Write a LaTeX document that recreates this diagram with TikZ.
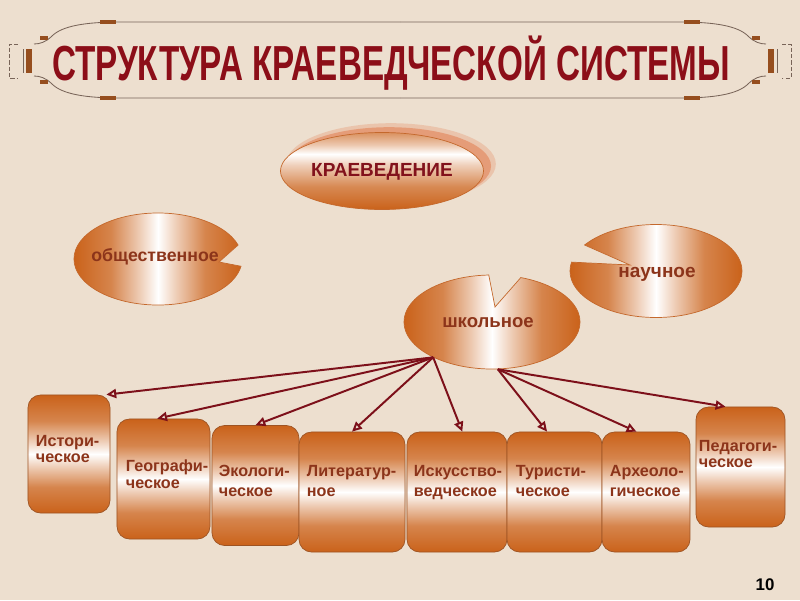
\documentclass[tikz,border=0pt]{standalone}
\usepackage{fontspec}
\setmainfont{Liberation Sans}
\usepackage{graphicx}
\usetikzlibrary{shapes,arrows.meta,calc}

\definecolor{bgsand}{RGB}{237,223,207}
\definecolor{titlered}{RGB}{140,14,24}
\definecolor{deepred}{RGB}{130,18,28}
\definecolor{rust}{RGB}{140,52,26}
\definecolor{amber}{RGB}{202,98,26}
\definecolor{rim}{RGB}{196,104,44}
\definecolor{arrowred}{RGB}{125,16,26}
\definecolor{frameink}{RGB}{120,100,88}
\definecolor{framebrown}{RGB}{150,78,30}
\definecolor{glow}{RGB}{226,118,70}

\pgfdeclareverticalshading{bandshade}{100bp}{color(0bp)=(amber); color(25bp)=(amber);
  color(36bp)=(amber!78!white); color(44bp)=(amber!35!white); color(50bp)=(white);
  color(56bp)=(amber!35!white); color(64bp)=(amber!78!white); color(75bp)=(amber); color(100bp)=(amber)}
\pgfdeclareverticalshading{capshade}{100bp}{color(0bp)=(amber); color(25bp)=(amber);
  color(40bp)=(amber!75!white); color(54bp)=(amber!30!white); color(61bp)=(white);
  color(67bp)=(amber!35!white); color(75bp)=(amber!70!white); color(100bp)=(amber!70!white)}

\tikzset{
  oval/.style={ellipse, inner sep=0pt, draw=rim, line width=0.5pt,
    shading=bandshade, shading angle=90},
  ovaltext/.style={inner sep=0pt, text=rust, font=\bfseries\fontsize{#1}{15}\selectfont},
  ovaltext/.default=13,
  notch/.style={fill=bgsand},
  notchrim/.style={draw=rim, line width=0.5pt},
  branch/.style={rectangle, rounded corners=9pt, inner sep=0pt, minimum height=3cm,
    draw=rim!80!black, line width=0.5pt, shading=bandshade},
  branchtext/.style={anchor=north west, align=left, inner sep=0pt, text=rust,
    font=\bfseries\fontsize{11.5}{#1}\selectfont},
  branchtext/.default=14.2,
  link/.style={arrowred, line width=1.4pt,
    -{Triangle[open, length=7pt, width=6.5pt]}},
}

\begin{document}
\begin{tikzpicture}[x=0.025cm, y=-0.025cm]
\useasboundingbox (0,0) rectangle (800,600);
\fill[bgsand] (0,0) rectangle (800,600);

% title frame
\foreach \sx/\ox in {1/0,-1/800}{
  \begin{scope}[shift={(\ox,0)}, xscale=\sx]
    \draw[frameink, line width=0.6pt] (400,22) -- (120,22) .. controls (85,22) and (62,26) .. (52,36) .. controls (46,42) and (40,44) .. (34,44);
    \draw[frameink, line width=0.6pt] (400,98) -- (120,98) .. controls (85,98) and (62,94) .. (52,84) .. controls (46,78) and (40,76) .. (34,76);
    \draw[frameink, line width=0.5pt, dash pattern=on 3pt off 1.5pt] (18,44) -- (9,44) -- (9,78) -- (18,78);
    \fill[framebrown] (26,49) rectangle (32,73);
    \draw[frameink, line width=0.6pt] (23,49) -- (23,73);
    \fill[framebrown] (40,36) rectangle (48,40);
    \fill[framebrown] (40,80) rectangle (48,84);
    \fill[framebrown] (100,20) rectangle (116,24);
    \fill[framebrown] (100,96) rectangle (116,100);
  \end{scope}
}
\node[anchor=base, inner sep=0pt, text=titlered, font=\bfseries\fontsize{35}{40}\selectfont] (title) at (391,80)
  {\scalebox{0.675}[1]{СТРУКТУРА КРАЕВЕДЧЕСКОЙ СИСТЕМЫ}};

% top ellipse with glow
\coordinate (kraev-c) at (382,171);
\fill[glow, opacity=0.25] ($(kraev-c)+(9,-7)$) ellipse [x radius=2.62cm, y radius=1.02cm];
\fill[glow, opacity=0.5] ($(kraev-c)+(7,-5)$) ellipse [x radius=2.55cm, y radius=0.97cm];
\node[ellipse, inner sep=0pt, draw=rim, line width=0.5pt, minimum width=5.075cm, minimum height=1.925cm,
  shading=capshade] (kraev) at (kraev-c) {};
\node[inner sep=0pt, text=deepred, font=\bfseries\fontsize{13.5}{15}\selectfont] (kraev-t) at (382,171.5) {КРАЕВЕДЕНИЕ};

% social
\node[oval, minimum width=4.2cm, minimum height=2.3cm] (soc) at (158,259) {};
\coordinate (soc-v) at (219,262);
\fill[notch] (soc-v) -- ($(soc-v)!2.5!(soc.10)$) -- ($(soc-v)!2.5!(soc.-5)$) -- cycle;
\draw[notchrim] (soc.10) -- (soc-v) -- (soc.-5);
\node[ovaltext=12.6] (soc-t) at (155,257) {общественное};

% science
\node[oval, minimum width=4.3cm, minimum height=2.325cm] (sci) at (656,271) {};
\coordinate (sci-v) at (630,265);
\fill[notch] (sci-v) -- ($(sci-v)!2.5!(sci.160)$) -- ($(sci-v)!2.5!(sci.174)$) -- cycle;
\draw[notchrim] (sci.160) -- (sci-v) -- (sci.174);
\node[ovaltext=13.5] (sci-t) at (657,274) {научное};

% school
\node[oval, minimum width=4.4cm, minimum height=2.35cm] (school) at (492,322) {};
\coordinate (school-v) at (495,307);
\fill[notch] (school-v) -- ($(school-v)!2.5!(school.94)$) -- ($(school-v)!2.5!(school.57)$) -- cycle;
\draw[notchrim] (school.94) -- (school-v) -- (school.57);
\node[ovaltext=13.2] (school-t) at (488,323) {школьное};

% branches
\node[branch, minimum width=2.05cm, minimum height=2.95cm] (hist) at (69,454) {};
\node[branch, minimum width=2.325cm] (geo) at (163.5,479) {};
\node[branch, minimum width=2.175cm] (eco) at (255.5,485.5) {};
\node[branch, minimum width=2.65cm] (lit) at (352,492) {};
\node[branch, minimum width=2.5cm] (art) at (457,492) {};
\node[branch, minimum width=2.375cm] (tour) at (554.5,492) {};
\node[branch, minimum width=2.2cm] (arch) at (646,492) {};
\node[branch, minimum width=2.225cm] (ped) at (740.5,467) {};

\node[branchtext=12] (hist-t) at ($(hist.north west)+(8,40)$) {Истори-\\ческое};
\node[branchtext=12] (geo-t) at ($(geo.north west)+(9,41)$) {Географи-\\ческое};
\node[branchtext] (eco-t) at ($(eco.north west)+(7,40)$) {Экологи-\\ческое};
\node[branchtext] (lit-t) at ($(lit.north west)+(8,33)$) {Литератур-\\ное};
\node[branchtext] (art-t) at ($(art.north west)+(7,33)$) {Искусство-\\ведческое};
\node[branchtext] (tour-t) at ($(tour.north west)+(9,33)$) {Туристи-\\ческое};
\node[branchtext] (arch-t) at ($(arch.north west)+(8,33)$) {Археоло-\\гическое};
\node[branchtext=12] (ped-t) at ($(ped.north west)+(3,33)$) {Педагоги-\\ческое};

% arrows
\draw[link] (school.211) -- ($(hist.north east)+(-4,0)$);
\draw[link] (school.211) -- (geo.96);
\draw[link] (school.211) -- (eco.north);
\draw[link] (school.211) -- (lit.north);
\draw[link] (school.211) -- (art.85);
\draw[link] (school.277) -- (tour.97);
\draw[link] (school.277) -- (arch.99);
\draw[link] (school.277) -- (ped.104);

\node[anchor=base, inner sep=0pt, font=\bfseries\fontsize{12}{14}\selectfont] (page) at (765,590) {10};
\end{tikzpicture}
\end{document}
